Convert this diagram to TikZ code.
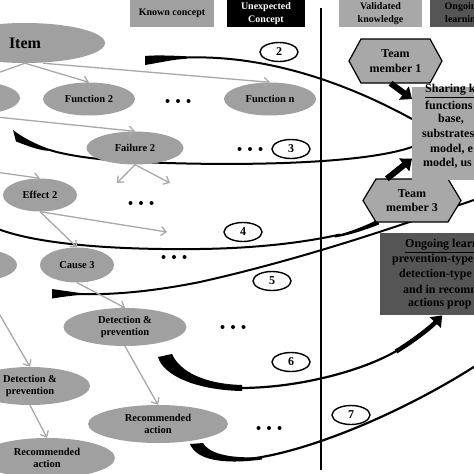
\documentclass[tikz,border=0pt]{standalone}
\usepackage{fontspec}
\setmainfont{Liberation Serif}
\usetikzlibrary{shapes.geometric,arrows.meta}
\definecolor{ellg}{HTML}{A0A0A0}
\definecolor{boxg}{HTML}{A8A8A8}
\definecolor{darkg}{HTML}{555555}
\definecolor{arrg}{HTML}{A8A8A8}
\pgfdeclarelayer{bg}
\pgfsetlayers{bg,main}
\tikzset{
  t10/.style={font=\fontsize{10}{12.5}\selectfont\bfseries},
  t105/.style={font=\fontsize{10.5}{12.5}\selectfont\bfseries},
  t12/.style={font=\fontsize{12}{14.5}\selectfont\bfseries},
  concept/.style={ellipse, fill=ellg, inner sep=0pt, align=center, t105},
  legend/.style={rectangle, inner sep=0pt, align=center, t10, minimum height=27pt},
  numb/.style={ellipse, draw, line width=1.4pt, fill=white, minimum width=38pt, minimum height=19pt, inner sep=0pt, t12},
  garrow/.style={draw=arrg, line width=1.3pt, -{Straight Barb[length=5pt,width=9pt]}},
  flow/.style={line width=2pt},
  hexs/.style={fill=boxg, draw=black, line width=1.2pt, line join=miter},
  hextext/.style={t12, align=center, inner sep=0pt},
  txtline/.style={t12, anchor=west, inner sep=0pt},
  fat/.style={line width=6pt, -{Triangle[length=10pt,width=16pt]}},
  threedots/.pic={\fill (-10.5,0) circle[radius=2pt] (0,0) circle[radius=2pt] (10.5,0) circle[radius=2pt];}
}
\begin{document}
\begin{tikzpicture}[x=1pt,y=-1pt]
\useasboundingbox (0,0) rectangle (474,474);
\clip (0,0) rectangle (474,474);
% legend
\node[legend, fill=ellg, minimum width=84pt] (lk) at (172,13.5) {Known concept};
\node[legend, fill=black, text=white, minimum width=78pt] (lu) at (266,13.5) {Unexpected\\Concept};
\node[legend, fill=boxg, minimum width=83pt] (lv) at (380.5,13.5) {Validated\\knowledge};
\node[legend, fill=darkg, minimum width=66pt] (lo) at (463,13.5) {Ongoing\\learning};
\draw[line width=1.2pt] (321,8) -- (321,470);

% concepts
\node[concept, font=\fontsize{16}{18}\selectfont\bfseries, minimum width=160pt, minimum height=40pt] (item) at (25,43) {Item};
\node[concept, minimum width=92pt, minimum height=33pt] (f1) at (-26,98) {};
\node[concept, minimum width=92pt, minimum height=33pt] (f2) at (89,99) {Function 2};
\node[concept, minimum width=92pt, minimum height=33pt] (fn) at (270,99) {Function n};
\node[concept, minimum width=97pt, minimum height=33pt] (fail2) at (135,148) {Failure 2};
\node[concept, minimum width=74pt, minimum height=33pt] (ef2) at (40,195) {Effect 2};
\node[concept, minimum width=74pt, minimum height=31pt] (cause2) at (-20,265) {};
\node[concept, minimum width=74pt, minimum height=35pt] (c3) at (77,265) {Cause 3};
\node[concept, minimum width=123pt, minimum height=38pt] (dp1) at (125,327) {Detection \&\\prevention};
\node[concept, minimum width=120pt, minimum height=38pt] (dp2) at (30,386) {Detection \&\\prevention};
\node[concept, minimum width=140pt, minimum height=38pt] (rec1) at (158,424) {Recommended\\action};
\node[concept, minimum width=136pt, minimum height=40pt] (rec2) at (47,458) {Recommended\\action};

% team members
\path[hexs] (349,61) -- (361,39) -- (430,39) -- (442,61) -- (430,83) -- (361,83) -- cycle;
\node[hextext, minimum width=93pt, minimum height=44pt] (tm1) at (395.5,61) {Team\\member 1};
\path[hexs] (363,200.5) -- (376,179) -- (448,179) -- (461,200.5) -- (448,222) -- (376,222) -- cycle;
\node[hextext, minimum width=98pt, minimum height=43pt] (tm3) at (412,200.5) {Team\\member 3};

% knowledge boxes
\node[fill=boxg, minimum width=68pt, minimum height=93pt, inner sep=0pt, anchor=north west] (share) at (412,87) {};
\node[txtline] (s1) at (425,91) {\underline{Sharing k}};
\node[txtline] (s2) at (425,105) {functions};
\node[txtline] (s3) at (438,119) {base,};
\node[txtline] (s4) at (422,134) {substrates,};
\node[txtline] (s5) at (430,149) {model, e};
\node[txtline] (s6) at (423,163) {model, us};

\node[fill=darkg, minimum width=100pt, minimum height=82pt, inner sep=0pt, anchor=north west] (ongo) at (380,233) {};
\node[txtline] (o1) at (405,246) {\underline{Ongoing learn}};
\node[txtline] (o2) at (392,260) {prevention-type};
\node[txtline] (o3) at (399,275) {detection-type};
\node[txtline] (o4) at (403,289) {and in recomm};
\node[txtline] (o5) at (408,304) {actions prop};

% flow curves (behind)
\begin{pgfonlayer}{bg}
% 2
\draw[flow] (412,119) .. controls (350,85) and (270,55) .. (187,57.5);
\fill (187,56.3) .. controls (170,55.5) and (155,55) .. (145,56) -- (145,65) .. controls (158,63) and (172,59.5) .. (187,58.7) -- cycle;
% 3
\draw[flow] (412,147) .. controls (360,165) and (230,166) .. (140,162) .. controls (95,160) and (65,155) .. (48,149.5);
\fill (48,148.5) .. controls (35,144) and (22,137) .. (13,130) -- (16,141.5) .. controls (28,146) and (38,150) .. (48,150.8) -- cycle;
% 4
\draw[flow] (-2,229) .. controls (40,245) and (120,250) .. (200,249) .. controls (270,248) and (315,240) .. (340,234.5);
\fill (335,235.5) .. controls (350,232) and (365,226) .. (378,219.5) -- (379,224.5) .. controls (365,230) and (350,235) .. (335,237.5) -- cycle;
% 5
\draw[flow] (480,198) .. controls (420,218) and (320,255) .. (200,282) .. controls (150,292) and (110,295) .. (80,294);
\fill (80,293) -- (52,289) -- (52,298.5) .. controls (62,297) and (72,295.5) .. (80,295) -- cycle;
% 6
\fill (158,357) .. controls (163,375) and (195,390) .. (242,391) -- (242,385) .. controls (205,384) and (180,372) .. (172,354) -- cycle;
\draw[line width=2.2pt] (240,388) .. controls (300,388) and (365,370) .. (398,350);
\draw[line width=4.5pt, -{Triangle[length=10pt,width=15pt]}] (396,351.5) .. controls (415,340) and (432,326) .. ([xshift=12pt]ongo.south);
% 7
\fill (190,444) .. controls (196,459) and (220,465) .. (262,459.5) -- (262,457) .. controls (225,459) and (208,452) .. (203,443) -- cycle;
\draw[line width=2.2pt] (243,459.5) .. controls (300,455) and (400,415) .. (480,363);
\end{pgfonlayer}

% step numbers
\node[numb] (n2) at (279,52) {2};
\node[numb] (n3) at (291,149) {3};
\node[numb] (n4) at (243,232) {4};
\node[numb] (n5) at (272,281) {5};
\node[numb] (n6) at (291,362) {6};
\node[numb] (n7) at (351,415) {7};

% dots
\pic at (178,101) {threedots};
\pic at (250,149) {threedots};
\pic at (141,203) {threedots};
\pic at (174,257) {threedots};
\pic at (233,327) {threedots};
\pic at (269,428) {threedots};

% free ends
\coordinate (fa) at (117,183);
\coordinate (fb) at (170,183);
\coordinate (eb) at (167,232);
\coordinate (fail1) at (-40,167);

% gray links
\draw[garrow] (item.south) -- (f1.north);
\draw[garrow] (item.south) -- (f2.north);
\draw[garrow] ([xshift=18pt]item.south) -- (fn.north);
\draw[garrow] (f1.south) -- (fail2.north);
\draw[garrow] (fail2.south) -- (fa);
\draw[garrow] (fail2.south) -- (fb);
\draw[garrow] (fail1) -- (ef2.north);
\draw[garrow] (ef2.south) -- (eb);
\draw[garrow] (ef2.south) -- (c3.north);
\draw[garrow] (c3.south) -- (dp1.north);
\draw[garrow] (cause2.south) -- (dp2.north);
\draw[garrow] (dp2.south) -- (rec2.north);
\draw[garrow] (dp1.south) -- (rec1.north);

% team members to sharing box
\draw[fat] ([xshift=-5pt]tm1.south) -- ([yshift=-12pt]share.north west);
\draw[fat] ([xshift=24pt]tm3.north west) -- ([yshift=-25pt]share.west);
\end{tikzpicture}
\end{document}
